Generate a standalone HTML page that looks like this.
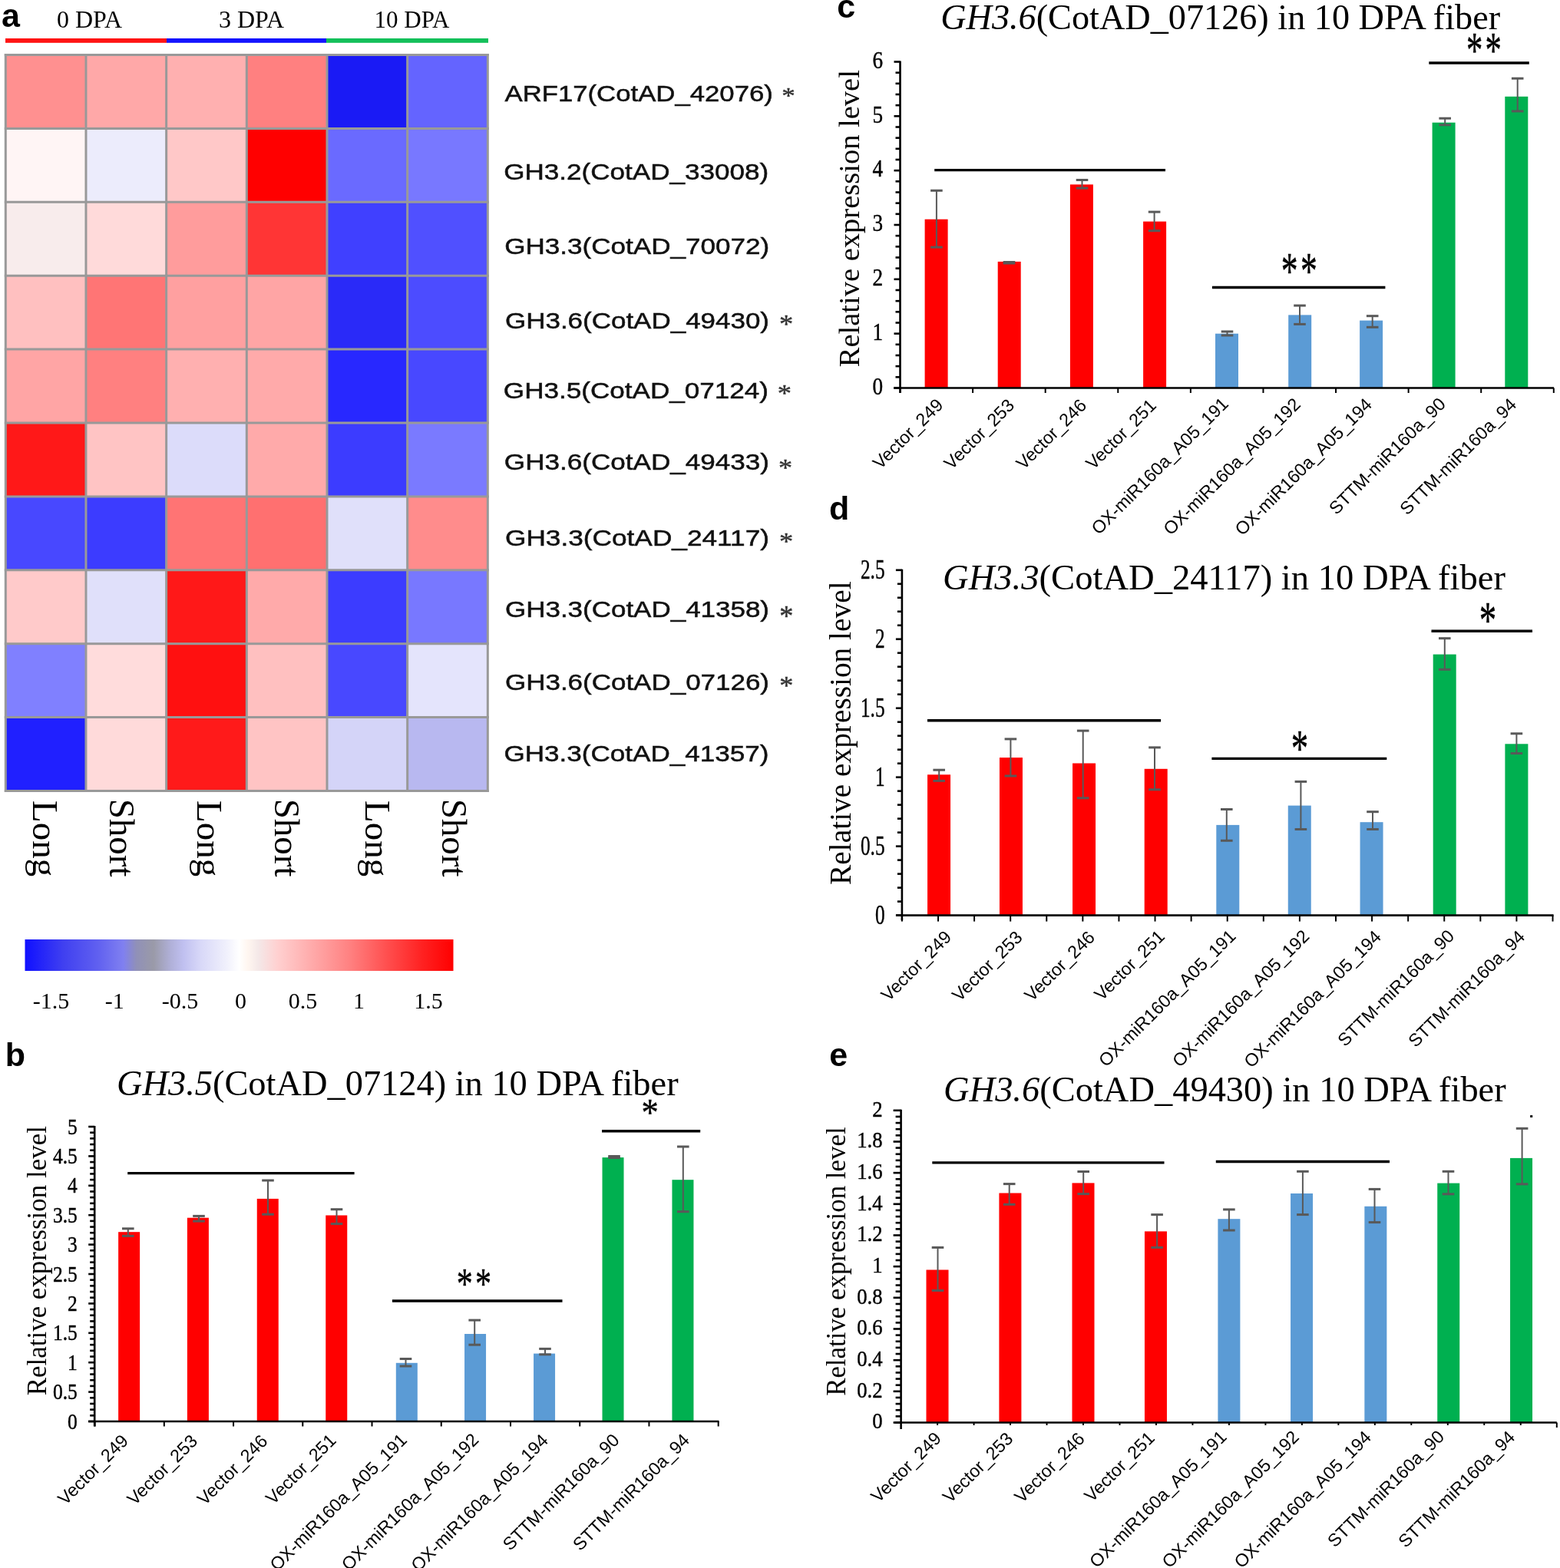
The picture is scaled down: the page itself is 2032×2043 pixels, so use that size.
<!DOCTYPE html>
<html><head><meta charset="utf-8"><title>Figure</title>
<style>html,body{margin:0;padding:0;background:#fff;}svg{display:block;}</style></head>
<body><svg xmlns="http://www.w3.org/2000/svg" width="2032" height="2043" viewBox="0 0 2032 2043">
<rect width="2032" height="2043" fill="#fff"/>
<text x="2" y="35" font-family="'Liberation Sans',Arial,sans-serif" font-size="43" font-weight="bold">a</text>
<text x="74" y="35.8" font-family="'Liberation Serif','Times New Roman',serif" font-size="31" textLength="85" lengthAdjust="spacingAndGlyphs">0 DPA</text>
<text x="285" y="35.8" font-family="'Liberation Serif','Times New Roman',serif" font-size="31" textLength="85" lengthAdjust="spacingAndGlyphs">3 DPA</text>
<text x="487.5" y="35.8" font-family="'Liberation Serif','Times New Roman',serif" font-size="31" textLength="98" lengthAdjust="spacingAndGlyphs">10 DPA</text>
<rect x="7" y="50" width="210" height="5.8" fill="#ff1414"/>
<rect x="217" y="50" width="208" height="5.8" fill="#1414ff"/>
<rect x="425" y="50" width="211" height="5.8" fill="#14c05a"/>
<rect x="7.3" y="71.5" width="104.67" height="95.9" fill="#ff9090"/>
<rect x="111.97" y="71.5" width="104.67" height="95.9" fill="#ffa8a8"/>
<rect x="216.64" y="71.5" width="104.67" height="95.9" fill="#ffb0b0"/>
<rect x="321.31" y="71.5" width="104.67" height="95.9" fill="#ff8080"/>
<rect x="425.98" y="71.5" width="104.67" height="95.9" fill="#1a1af5"/>
<rect x="530.65" y="71.5" width="104.67" height="95.9" fill="#6464ff"/>
<rect x="7.3" y="167.4" width="104.67" height="95.9" fill="#fff5f5"/>
<rect x="111.97" y="167.4" width="104.67" height="95.9" fill="#ececfc"/>
<rect x="216.64" y="167.4" width="104.67" height="95.9" fill="#ffc8c8"/>
<rect x="321.31" y="167.4" width="104.67" height="95.9" fill="#ff0000"/>
<rect x="425.98" y="167.4" width="104.67" height="95.9" fill="#6a6aff"/>
<rect x="530.65" y="167.4" width="104.67" height="95.9" fill="#7878ff"/>
<rect x="7.3" y="263.3" width="104.67" height="95.9" fill="#f8ecec"/>
<rect x="111.97" y="263.3" width="104.67" height="95.9" fill="#ffdada"/>
<rect x="216.64" y="263.3" width="104.67" height="95.9" fill="#ff9c9c"/>
<rect x="321.31" y="263.3" width="104.67" height="95.9" fill="#ff3535"/>
<rect x="425.98" y="263.3" width="104.67" height="95.9" fill="#4040ff"/>
<rect x="530.65" y="263.3" width="104.67" height="95.9" fill="#5050ff"/>
<rect x="7.3" y="359.2" width="104.67" height="95.9" fill="#ffc0c0"/>
<rect x="111.97" y="359.2" width="104.67" height="95.9" fill="#ff7575"/>
<rect x="216.64" y="359.2" width="104.67" height="95.9" fill="#ffa0a0"/>
<rect x="321.31" y="359.2" width="104.67" height="95.9" fill="#ffa5a5"/>
<rect x="425.98" y="359.2" width="104.67" height="95.9" fill="#2a2af8"/>
<rect x="530.65" y="359.2" width="104.67" height="95.9" fill="#4c4cff"/>
<rect x="7.3" y="455.1" width="104.67" height="95.9" fill="#ffa5a5"/>
<rect x="111.97" y="455.1" width="104.67" height="95.9" fill="#ff8080"/>
<rect x="216.64" y="455.1" width="104.67" height="95.9" fill="#ffb0b0"/>
<rect x="321.31" y="455.1" width="104.67" height="95.9" fill="#ffaaaa"/>
<rect x="425.98" y="455.1" width="104.67" height="95.9" fill="#2828ff"/>
<rect x="530.65" y="455.1" width="104.67" height="95.9" fill="#4848ff"/>
<rect x="7.3" y="551" width="104.67" height="95.9" fill="#ff1818"/>
<rect x="111.97" y="551" width="104.67" height="95.9" fill="#ffc4c4"/>
<rect x="216.64" y="551" width="104.67" height="95.9" fill="#dcdcfa"/>
<rect x="321.31" y="551" width="104.67" height="95.9" fill="#ffaaaa"/>
<rect x="425.98" y="551" width="104.67" height="95.9" fill="#3c3cff"/>
<rect x="530.65" y="551" width="104.67" height="95.9" fill="#7a7aff"/>
<rect x="7.3" y="646.9" width="104.67" height="95.9" fill="#4848ff"/>
<rect x="111.97" y="646.9" width="104.67" height="95.9" fill="#3c3cff"/>
<rect x="216.64" y="646.9" width="104.67" height="95.9" fill="#ff7474"/>
<rect x="321.31" y="646.9" width="104.67" height="95.9" fill="#ff7070"/>
<rect x="425.98" y="646.9" width="104.67" height="95.9" fill="#e0e0fa"/>
<rect x="530.65" y="646.9" width="104.67" height="95.9" fill="#ff8c8c"/>
<rect x="7.3" y="742.8" width="104.67" height="95.9" fill="#ffcaca"/>
<rect x="111.97" y="742.8" width="104.67" height="95.9" fill="#e0e0fa"/>
<rect x="216.64" y="742.8" width="104.67" height="95.9" fill="#ff1818"/>
<rect x="321.31" y="742.8" width="104.67" height="95.9" fill="#ffaaaa"/>
<rect x="425.98" y="742.8" width="104.67" height="95.9" fill="#3c3cff"/>
<rect x="530.65" y="742.8" width="104.67" height="95.9" fill="#7878ff"/>
<rect x="7.3" y="838.7" width="104.67" height="95.9" fill="#8080ff"/>
<rect x="111.97" y="838.7" width="104.67" height="95.9" fill="#ffdcdc"/>
<rect x="216.64" y="838.7" width="104.67" height="95.9" fill="#ff1010"/>
<rect x="321.31" y="838.7" width="104.67" height="95.9" fill="#ffc0c0"/>
<rect x="425.98" y="838.7" width="104.67" height="95.9" fill="#4848ff"/>
<rect x="530.65" y="838.7" width="104.67" height="95.9" fill="#e4e4fc"/>
<rect x="7.3" y="934.6" width="104.67" height="95.9" fill="#2020ff"/>
<rect x="111.97" y="934.6" width="104.67" height="95.9" fill="#ffdada"/>
<rect x="216.64" y="934.6" width="104.67" height="95.9" fill="#ff1a1a"/>
<rect x="321.31" y="934.6" width="104.67" height="95.9" fill="#ffc4c4"/>
<rect x="425.98" y="934.6" width="104.67" height="95.9" fill="#d4d4f8"/>
<rect x="530.65" y="934.6" width="104.67" height="95.9" fill="#b8b8f0"/>
<line x1="7.3" y1="70" x2="7.3" y2="1032" stroke="#999" stroke-width="3" stroke-linecap="butt"/>
<line x1="111.97" y1="70" x2="111.97" y2="1032" stroke="#999" stroke-width="3" stroke-linecap="butt"/>
<line x1="216.64" y1="70" x2="216.64" y2="1032" stroke="#999" stroke-width="3" stroke-linecap="butt"/>
<line x1="321.31" y1="70" x2="321.31" y2="1032" stroke="#999" stroke-width="3" stroke-linecap="butt"/>
<line x1="425.98" y1="70" x2="425.98" y2="1032" stroke="#999" stroke-width="3" stroke-linecap="butt"/>
<line x1="530.65" y1="70" x2="530.65" y2="1032" stroke="#999" stroke-width="3" stroke-linecap="butt"/>
<line x1="635.32" y1="70" x2="635.32" y2="1032" stroke="#999" stroke-width="3" stroke-linecap="butt"/>
<line x1="5.8" y1="71.5" x2="636.82" y2="71.5" stroke="#999" stroke-width="3" stroke-linecap="butt"/>
<line x1="5.8" y1="167.4" x2="636.82" y2="167.4" stroke="#999" stroke-width="3" stroke-linecap="butt"/>
<line x1="5.8" y1="263.3" x2="636.82" y2="263.3" stroke="#999" stroke-width="3" stroke-linecap="butt"/>
<line x1="5.8" y1="359.2" x2="636.82" y2="359.2" stroke="#999" stroke-width="3" stroke-linecap="butt"/>
<line x1="5.8" y1="455.1" x2="636.82" y2="455.1" stroke="#999" stroke-width="3" stroke-linecap="butt"/>
<line x1="5.8" y1="551" x2="636.82" y2="551" stroke="#999" stroke-width="3" stroke-linecap="butt"/>
<line x1="5.8" y1="646.9" x2="636.82" y2="646.9" stroke="#999" stroke-width="3" stroke-linecap="butt"/>
<line x1="5.8" y1="742.8" x2="636.82" y2="742.8" stroke="#999" stroke-width="3" stroke-linecap="butt"/>
<line x1="5.8" y1="838.7" x2="636.82" y2="838.7" stroke="#999" stroke-width="3" stroke-linecap="butt"/>
<line x1="5.8" y1="934.6" x2="636.82" y2="934.6" stroke="#999" stroke-width="3" stroke-linecap="butt"/>
<line x1="5.8" y1="1030.5" x2="636.82" y2="1030.5" stroke="#999" stroke-width="3" stroke-linecap="butt"/>
<text x="657.48" y="132" font-family="'Liberation Sans',Arial,sans-serif" font-size="30.2" fill="#111" textLength="349.4" lengthAdjust="spacingAndGlyphs" stroke="#111" stroke-width="0.5">ARF17(CotAD_42076)</text>
<text x="656.19" y="234" font-family="'Liberation Sans',Arial,sans-serif" font-size="30.2" fill="#111" textLength="345.05" lengthAdjust="spacingAndGlyphs" stroke="#111" stroke-width="0.5">GH3.2(CotAD_33008)</text>
<text x="657.19" y="331" font-family="'Liberation Sans',Arial,sans-serif" font-size="30.2" fill="#111" textLength="345.05" lengthAdjust="spacingAndGlyphs" stroke="#111" stroke-width="0.5">GH3.3(CotAD_70072)</text>
<text x="657.99" y="428.4" font-family="'Liberation Sans',Arial,sans-serif" font-size="30.2" fill="#111" textLength="344.04" lengthAdjust="spacingAndGlyphs" stroke="#111" stroke-width="0.5">GH3.6(CotAD_49430)</text>
<text x="655.89" y="519" font-family="'Liberation Sans',Arial,sans-serif" font-size="30.2" fill="#111" textLength="345.05" lengthAdjust="spacingAndGlyphs" stroke="#111" stroke-width="0.5">GH3.5(CotAD_07124)</text>
<text x="656.89" y="611.6" font-family="'Liberation Sans',Arial,sans-serif" font-size="30.2" fill="#111" textLength="345.05" lengthAdjust="spacingAndGlyphs" stroke="#111" stroke-width="0.5">GH3.6(CotAD_49433)</text>
<text x="657.98" y="710.8" font-family="'Liberation Sans',Arial,sans-serif" font-size="30.2" fill="#111" textLength="344.07" lengthAdjust="spacingAndGlyphs" stroke="#111" stroke-width="0.5">GH3.3(CotAD_24117)</text>
<text x="657.99" y="804.4" font-family="'Liberation Sans',Arial,sans-serif" font-size="30.2" fill="#111" textLength="344.04" lengthAdjust="spacingAndGlyphs" stroke="#111" stroke-width="0.5">GH3.3(CotAD_41358)</text>
<text x="657.99" y="899.1" font-family="'Liberation Sans',Arial,sans-serif" font-size="30.2" fill="#111" textLength="344.04" lengthAdjust="spacingAndGlyphs" stroke="#111" stroke-width="0.5">GH3.6(CotAD_07126)</text>
<text x="656.49" y="991.7" font-family="'Liberation Sans',Arial,sans-serif" font-size="30.2" fill="#111" textLength="345.05" lengthAdjust="spacingAndGlyphs" stroke="#111" stroke-width="0.5">GH3.3(CotAD_41357)</text>
<text x="0" y="0" font-family="'Liberation Serif','Times New Roman',serif" font-size="34.91" text-anchor="middle" fill="#333" transform="translate(1027,133.71) scale(1,0.86)" stroke="#333" stroke-width="0.5">*</text>
<text x="0" y="0" font-family="'Liberation Serif','Times New Roman',serif" font-size="36.41" text-anchor="middle" fill="#333" transform="translate(1024,433.02) scale(1,0.93)" stroke="#333" stroke-width="0.5">*</text>
<text x="0" y="0" font-family="'Liberation Serif','Times New Roman',serif" font-size="36.41" text-anchor="middle" fill="#333" transform="translate(1021.9,522.91) scale(1,0.87)" stroke="#333" stroke-width="0.5">*</text>
<text x="0" y="0" font-family="'Liberation Serif','Times New Roman',serif" font-size="36.16" text-anchor="middle" fill="#333" transform="translate(1022.95,619.71) scale(1,0.87)" stroke="#333" stroke-width="0.5">*</text>
<text x="0" y="0" font-family="'Liberation Serif','Times New Roman',serif" font-size="36.41" text-anchor="middle" fill="#333" transform="translate(1024,715.63) scale(1,0.86)" stroke="#333" stroke-width="0.5">*</text>
<text x="0" y="0" font-family="'Liberation Serif','Times New Roman',serif" font-size="36.16" text-anchor="middle" fill="#333" transform="translate(1024.25,815.09) scale(1,1.02)" stroke="#333" stroke-width="0.5">*</text>
<text x="0" y="0" font-family="'Liberation Serif','Times New Roman',serif" font-size="36.16" text-anchor="middle" fill="#333" transform="translate(1024.25,903.8) scale(1,0.95)" stroke="#333" stroke-width="0.5">*</text>
<text x="0" y="0" font-family="'Liberation Serif','Times New Roman',serif" font-size="47" transform="translate(42.9,1043) rotate(90)">Long</text>
<text x="0" y="0" font-family="'Liberation Serif','Times New Roman',serif" font-size="47" transform="translate(143.3,1040.7) rotate(90)">Short</text>
<text x="0" y="0" font-family="'Liberation Serif','Times New Roman',serif" font-size="47" transform="translate(257.2,1043) rotate(90)">Long</text>
<text x="0" y="0" font-family="'Liberation Serif','Times New Roman',serif" font-size="47" transform="translate(357.5,1040.7) rotate(90)">Short</text>
<text x="0" y="0" font-family="'Liberation Serif','Times New Roman',serif" font-size="47" transform="translate(475.7,1043) rotate(90)">Long</text>
<text x="0" y="0" font-family="'Liberation Serif','Times New Roman',serif" font-size="47" transform="translate(576,1040.7) rotate(90)">Short</text>
<defs><linearGradient id="cb" x1="0" x2="1" y1="0" y2="0"><stop offset="0" stop-color="#1010ff"/><stop offset="0.09" stop-color="#4040f0"/><stop offset="0.17" stop-color="#6060f0"/><stop offset="0.23" stop-color="#8080f0"/><stop offset="0.26" stop-color="#9090b8"/><stop offset="0.30" stop-color="#9a9aa8"/><stop offset="0.34" stop-color="#b0b0d8"/><stop offset="0.37" stop-color="#c0c0f0"/><stop offset="0.41" stop-color="#d8d8f8"/><stop offset="0.47" stop-color="#f0f0fc"/><stop offset="0.50" stop-color="#ffffff"/><stop offset="0.52" stop-color="#fff6f0"/><stop offset="0.545" stop-color="#f4e8e8"/><stop offset="0.59" stop-color="#ffd0d0"/><stop offset="0.675" stop-color="#ffa8a8"/><stop offset="0.76" stop-color="#ff8080"/><stop offset="0.843" stop-color="#ff5050"/><stop offset="0.93" stop-color="#ff2020"/><stop offset="1" stop-color="#ff0000"/></linearGradient></defs>
<rect x="32.5" y="1224" width="558" height="41" fill="url(#cb)"/>
<text x="66.6" y="1314" font-family="'Liberation Serif','Times New Roman',serif" font-size="30" text-anchor="middle">-1.5</text>
<text x="149.2" y="1314" font-family="'Liberation Serif','Times New Roman',serif" font-size="30" text-anchor="middle">-1</text>
<text x="234.5" y="1314" font-family="'Liberation Serif','Times New Roman',serif" font-size="30" text-anchor="middle">-0.5</text>
<text x="313.5" y="1314" font-family="'Liberation Serif','Times New Roman',serif" font-size="30" text-anchor="middle">0</text>
<text x="394.5" y="1314" font-family="'Liberation Serif','Times New Roman',serif" font-size="30" text-anchor="middle">0.5</text>
<text x="467.5" y="1314" font-family="'Liberation Serif','Times New Roman',serif" font-size="30" text-anchor="middle">1</text>
<text x="558" y="1314" font-family="'Liberation Serif','Times New Roman',serif" font-size="30" text-anchor="middle">1.5</text>
<rect x="154.15" y="1605.2" width="28" height="246.8" fill="#ff0000"/>
<rect x="243.9" y="1586.7" width="28" height="265.3" fill="#ff0000"/>
<rect x="334.75" y="1561.9" width="28" height="290.1" fill="#ff0000"/>
<rect x="424.25" y="1583.5" width="28" height="268.5" fill="#ff0000"/>
<rect x="515.8" y="1775.8" width="28" height="76.2" fill="#5b9bd5"/>
<rect x="605.05" y="1738" width="28" height="114" fill="#5b9bd5"/>
<rect x="695.05" y="1763.6" width="28" height="88.4" fill="#5b9bd5"/>
<rect x="784.5" y="1508.1" width="28" height="343.9" fill="#00b050"/>
<rect x="875.45" y="1537.2" width="28" height="314.8" fill="#00b050"/>
<line x1="166.8" y1="1600.8" x2="166.8" y2="1610.4" stroke="#595959" stroke-width="2" stroke-linecap="butt"/>
<line x1="159" y1="1600.8" x2="174.6" y2="1600.8" stroke="#595959" stroke-width="3" stroke-linecap="butt"/>
<line x1="159" y1="1610.4" x2="174.6" y2="1610.4" stroke="#595959" stroke-width="3" stroke-linecap="butt"/>
<line x1="259" y1="1584.4" x2="259" y2="1591.1" stroke="#595959" stroke-width="2" stroke-linecap="butt"/>
<line x1="251.2" y1="1584.4" x2="266.8" y2="1584.4" stroke="#595959" stroke-width="3" stroke-linecap="butt"/>
<line x1="251.2" y1="1591.1" x2="266.8" y2="1591.1" stroke="#595959" stroke-width="3" stroke-linecap="butt"/>
<line x1="349" y1="1538" x2="349" y2="1582.2" stroke="#595959" stroke-width="2" stroke-linecap="butt"/>
<line x1="341.2" y1="1538" x2="356.8" y2="1538" stroke="#595959" stroke-width="3" stroke-linecap="butt"/>
<line x1="341.2" y1="1582.2" x2="356.8" y2="1582.2" stroke="#595959" stroke-width="3" stroke-linecap="butt"/>
<line x1="438.5" y1="1575.7" x2="438.5" y2="1594.6" stroke="#595959" stroke-width="2" stroke-linecap="butt"/>
<line x1="430.7" y1="1575.7" x2="446.3" y2="1575.7" stroke="#595959" stroke-width="3" stroke-linecap="butt"/>
<line x1="430.7" y1="1594.6" x2="446.3" y2="1594.6" stroke="#595959" stroke-width="3" stroke-linecap="butt"/>
<line x1="528.5" y1="1770.5" x2="528.5" y2="1780" stroke="#595959" stroke-width="2" stroke-linecap="butt"/>
<line x1="520.7" y1="1770.5" x2="536.3" y2="1770.5" stroke="#595959" stroke-width="3" stroke-linecap="butt"/>
<line x1="520.7" y1="1780" x2="536.3" y2="1780" stroke="#595959" stroke-width="3" stroke-linecap="butt"/>
<line x1="618.2" y1="1720.1" x2="618.2" y2="1752.2" stroke="#595959" stroke-width="2" stroke-linecap="butt"/>
<line x1="610.4" y1="1720.1" x2="626" y2="1720.1" stroke="#595959" stroke-width="3" stroke-linecap="butt"/>
<line x1="610.4" y1="1752.2" x2="626" y2="1752.2" stroke="#595959" stroke-width="3" stroke-linecap="butt"/>
<line x1="710" y1="1757.4" x2="710" y2="1764.8" stroke="#595959" stroke-width="2" stroke-linecap="butt"/>
<line x1="702.2" y1="1757.4" x2="717.8" y2="1757.4" stroke="#595959" stroke-width="3" stroke-linecap="butt"/>
<line x1="702.2" y1="1764.8" x2="717.8" y2="1764.8" stroke="#595959" stroke-width="3" stroke-linecap="butt"/>
<line x1="800" y1="1506.5" x2="800" y2="1508.5" stroke="#595959" stroke-width="2" stroke-linecap="butt"/>
<line x1="792.2" y1="1506.5" x2="807.8" y2="1506.5" stroke="#595959" stroke-width="3" stroke-linecap="butt"/>
<line x1="792.2" y1="1508.5" x2="807.8" y2="1508.5" stroke="#595959" stroke-width="3" stroke-linecap="butt"/>
<line x1="889.8" y1="1494" x2="889.8" y2="1578.7" stroke="#595959" stroke-width="2" stroke-linecap="butt"/>
<line x1="882" y1="1494" x2="897.6" y2="1494" stroke="#595959" stroke-width="3" stroke-linecap="butt"/>
<line x1="882" y1="1578.7" x2="897.6" y2="1578.7" stroke="#595959" stroke-width="3" stroke-linecap="butt"/>
<line x1="123.2" y1="1467" x2="123.2" y2="1858.5" stroke="#000" stroke-width="2.6" stroke-linecap="butt"/>
<line x1="115" y1="1852" x2="936.5" y2="1852" stroke="#000" stroke-width="2.6" stroke-linecap="butt"/>
<line x1="115.2" y1="1852" x2="123.2" y2="1852" stroke="#000" stroke-width="2.6" stroke-linecap="butt"/>
<line x1="117.2" y1="1844.32" x2="123.2" y2="1844.32" stroke="#000" stroke-width="2.6" stroke-linecap="butt"/>
<line x1="117.2" y1="1836.64" x2="123.2" y2="1836.64" stroke="#000" stroke-width="2.6" stroke-linecap="butt"/>
<line x1="117.2" y1="1828.96" x2="123.2" y2="1828.96" stroke="#000" stroke-width="2.6" stroke-linecap="butt"/>
<line x1="117.2" y1="1821.28" x2="123.2" y2="1821.28" stroke="#000" stroke-width="2.6" stroke-linecap="butt"/>
<line x1="115.2" y1="1813.6" x2="123.2" y2="1813.6" stroke="#000" stroke-width="2.6" stroke-linecap="butt"/>
<line x1="117.2" y1="1805.92" x2="123.2" y2="1805.92" stroke="#000" stroke-width="2.6" stroke-linecap="butt"/>
<line x1="117.2" y1="1798.24" x2="123.2" y2="1798.24" stroke="#000" stroke-width="2.6" stroke-linecap="butt"/>
<line x1="117.2" y1="1790.56" x2="123.2" y2="1790.56" stroke="#000" stroke-width="2.6" stroke-linecap="butt"/>
<line x1="117.2" y1="1782.88" x2="123.2" y2="1782.88" stroke="#000" stroke-width="2.6" stroke-linecap="butt"/>
<line x1="115.2" y1="1775.2" x2="123.2" y2="1775.2" stroke="#000" stroke-width="2.6" stroke-linecap="butt"/>
<line x1="117.2" y1="1767.52" x2="123.2" y2="1767.52" stroke="#000" stroke-width="2.6" stroke-linecap="butt"/>
<line x1="117.2" y1="1759.84" x2="123.2" y2="1759.84" stroke="#000" stroke-width="2.6" stroke-linecap="butt"/>
<line x1="117.2" y1="1752.16" x2="123.2" y2="1752.16" stroke="#000" stroke-width="2.6" stroke-linecap="butt"/>
<line x1="117.2" y1="1744.48" x2="123.2" y2="1744.48" stroke="#000" stroke-width="2.6" stroke-linecap="butt"/>
<line x1="115.2" y1="1736.8" x2="123.2" y2="1736.8" stroke="#000" stroke-width="2.6" stroke-linecap="butt"/>
<line x1="117.2" y1="1729.12" x2="123.2" y2="1729.12" stroke="#000" stroke-width="2.6" stroke-linecap="butt"/>
<line x1="117.2" y1="1721.44" x2="123.2" y2="1721.44" stroke="#000" stroke-width="2.6" stroke-linecap="butt"/>
<line x1="117.2" y1="1713.76" x2="123.2" y2="1713.76" stroke="#000" stroke-width="2.6" stroke-linecap="butt"/>
<line x1="117.2" y1="1706.08" x2="123.2" y2="1706.08" stroke="#000" stroke-width="2.6" stroke-linecap="butt"/>
<line x1="115.2" y1="1698.4" x2="123.2" y2="1698.4" stroke="#000" stroke-width="2.6" stroke-linecap="butt"/>
<line x1="117.2" y1="1690.72" x2="123.2" y2="1690.72" stroke="#000" stroke-width="2.6" stroke-linecap="butt"/>
<line x1="117.2" y1="1683.04" x2="123.2" y2="1683.04" stroke="#000" stroke-width="2.6" stroke-linecap="butt"/>
<line x1="117.2" y1="1675.36" x2="123.2" y2="1675.36" stroke="#000" stroke-width="2.6" stroke-linecap="butt"/>
<line x1="117.2" y1="1667.68" x2="123.2" y2="1667.68" stroke="#000" stroke-width="2.6" stroke-linecap="butt"/>
<line x1="115.2" y1="1660" x2="123.2" y2="1660" stroke="#000" stroke-width="2.6" stroke-linecap="butt"/>
<line x1="117.2" y1="1652.32" x2="123.2" y2="1652.32" stroke="#000" stroke-width="2.6" stroke-linecap="butt"/>
<line x1="117.2" y1="1644.64" x2="123.2" y2="1644.64" stroke="#000" stroke-width="2.6" stroke-linecap="butt"/>
<line x1="117.2" y1="1636.96" x2="123.2" y2="1636.96" stroke="#000" stroke-width="2.6" stroke-linecap="butt"/>
<line x1="117.2" y1="1629.28" x2="123.2" y2="1629.28" stroke="#000" stroke-width="2.6" stroke-linecap="butt"/>
<line x1="115.2" y1="1621.6" x2="123.2" y2="1621.6" stroke="#000" stroke-width="2.6" stroke-linecap="butt"/>
<line x1="117.2" y1="1613.92" x2="123.2" y2="1613.92" stroke="#000" stroke-width="2.6" stroke-linecap="butt"/>
<line x1="117.2" y1="1606.24" x2="123.2" y2="1606.24" stroke="#000" stroke-width="2.6" stroke-linecap="butt"/>
<line x1="117.2" y1="1598.56" x2="123.2" y2="1598.56" stroke="#000" stroke-width="2.6" stroke-linecap="butt"/>
<line x1="117.2" y1="1590.88" x2="123.2" y2="1590.88" stroke="#000" stroke-width="2.6" stroke-linecap="butt"/>
<line x1="115.2" y1="1583.2" x2="123.2" y2="1583.2" stroke="#000" stroke-width="2.6" stroke-linecap="butt"/>
<line x1="117.2" y1="1575.52" x2="123.2" y2="1575.52" stroke="#000" stroke-width="2.6" stroke-linecap="butt"/>
<line x1="117.2" y1="1567.84" x2="123.2" y2="1567.84" stroke="#000" stroke-width="2.6" stroke-linecap="butt"/>
<line x1="117.2" y1="1560.16" x2="123.2" y2="1560.16" stroke="#000" stroke-width="2.6" stroke-linecap="butt"/>
<line x1="117.2" y1="1552.48" x2="123.2" y2="1552.48" stroke="#000" stroke-width="2.6" stroke-linecap="butt"/>
<line x1="115.2" y1="1544.8" x2="123.2" y2="1544.8" stroke="#000" stroke-width="2.6" stroke-linecap="butt"/>
<line x1="117.2" y1="1537.12" x2="123.2" y2="1537.12" stroke="#000" stroke-width="2.6" stroke-linecap="butt"/>
<line x1="117.2" y1="1529.44" x2="123.2" y2="1529.44" stroke="#000" stroke-width="2.6" stroke-linecap="butt"/>
<line x1="117.2" y1="1521.76" x2="123.2" y2="1521.76" stroke="#000" stroke-width="2.6" stroke-linecap="butt"/>
<line x1="117.2" y1="1514.08" x2="123.2" y2="1514.08" stroke="#000" stroke-width="2.6" stroke-linecap="butt"/>
<line x1="115.2" y1="1506.4" x2="123.2" y2="1506.4" stroke="#000" stroke-width="2.6" stroke-linecap="butt"/>
<line x1="117.2" y1="1498.72" x2="123.2" y2="1498.72" stroke="#000" stroke-width="2.6" stroke-linecap="butt"/>
<line x1="117.2" y1="1491.04" x2="123.2" y2="1491.04" stroke="#000" stroke-width="2.6" stroke-linecap="butt"/>
<line x1="117.2" y1="1483.36" x2="123.2" y2="1483.36" stroke="#000" stroke-width="2.6" stroke-linecap="butt"/>
<line x1="117.2" y1="1475.68" x2="123.2" y2="1475.68" stroke="#000" stroke-width="2.6" stroke-linecap="butt"/>
<line x1="115.2" y1="1468" x2="123.2" y2="1468" stroke="#000" stroke-width="2.6" stroke-linecap="butt"/>
<text x="0" y="0" font-family="'Liberation Serif','Times New Roman',serif" font-size="29" text-anchor="end" transform="translate(100.8,1861.57) scale(0.88,1)" stroke="#000" stroke-width="0.45">0</text>
<text x="0" y="0" font-family="'Liberation Serif','Times New Roman',serif" font-size="29" text-anchor="end" transform="translate(100.8,1823.17) scale(0.88,1)" stroke="#000" stroke-width="0.45">0.5</text>
<text x="0" y="0" font-family="'Liberation Serif','Times New Roman',serif" font-size="29" text-anchor="end" transform="translate(100.8,1784.77) scale(0.88,1)" stroke="#000" stroke-width="0.45">1</text>
<text x="0" y="0" font-family="'Liberation Serif','Times New Roman',serif" font-size="29" text-anchor="end" transform="translate(100.8,1746.37) scale(0.88,1)" stroke="#000" stroke-width="0.45">1.5</text>
<text x="0" y="0" font-family="'Liberation Serif','Times New Roman',serif" font-size="29" text-anchor="end" transform="translate(100.8,1707.97) scale(0.88,1)" stroke="#000" stroke-width="0.45">2</text>
<text x="0" y="0" font-family="'Liberation Serif','Times New Roman',serif" font-size="29" text-anchor="end" transform="translate(100.8,1669.57) scale(0.88,1)" stroke="#000" stroke-width="0.45">2.5</text>
<text x="0" y="0" font-family="'Liberation Serif','Times New Roman',serif" font-size="29" text-anchor="end" transform="translate(100.8,1631.17) scale(0.88,1)" stroke="#000" stroke-width="0.45">3</text>
<text x="0" y="0" font-family="'Liberation Serif','Times New Roman',serif" font-size="29" text-anchor="end" transform="translate(100.8,1592.77) scale(0.88,1)" stroke="#000" stroke-width="0.45">3.5</text>
<text x="0" y="0" font-family="'Liberation Serif','Times New Roman',serif" font-size="29" text-anchor="end" transform="translate(100.8,1554.37) scale(0.88,1)" stroke="#000" stroke-width="0.45">4</text>
<text x="0" y="0" font-family="'Liberation Serif','Times New Roman',serif" font-size="29" text-anchor="end" transform="translate(100.8,1515.97) scale(0.88,1)" stroke="#000" stroke-width="0.45">4.5</text>
<text x="0" y="0" font-family="'Liberation Serif','Times New Roman',serif" font-size="29" text-anchor="end" transform="translate(100.8,1477.57) scale(0.88,1)" stroke="#000" stroke-width="0.45">5</text>
<line x1="123.6" y1="1852" x2="123.6" y2="1858.5" stroke="#000" stroke-width="2" stroke-linecap="butt"/>
<line x1="213.83" y1="1852" x2="213.83" y2="1858.5" stroke="#000" stroke-width="2" stroke-linecap="butt"/>
<line x1="304.06" y1="1852" x2="304.06" y2="1858.5" stroke="#000" stroke-width="2" stroke-linecap="butt"/>
<line x1="394.29" y1="1852" x2="394.29" y2="1858.5" stroke="#000" stroke-width="2" stroke-linecap="butt"/>
<line x1="484.52" y1="1852" x2="484.52" y2="1858.5" stroke="#000" stroke-width="2" stroke-linecap="butt"/>
<line x1="574.75" y1="1852" x2="574.75" y2="1858.5" stroke="#000" stroke-width="2" stroke-linecap="butt"/>
<line x1="664.98" y1="1852" x2="664.98" y2="1858.5" stroke="#000" stroke-width="2" stroke-linecap="butt"/>
<line x1="755.21" y1="1852" x2="755.21" y2="1858.5" stroke="#000" stroke-width="2" stroke-linecap="butt"/>
<line x1="845.44" y1="1852" x2="845.44" y2="1858.5" stroke="#000" stroke-width="2" stroke-linecap="butt"/>
<line x1="935.67" y1="1852" x2="935.67" y2="1858.5" stroke="#000" stroke-width="2" stroke-linecap="butt"/>
<line x1="166.2" y1="1528.6" x2="461.6" y2="1528.6" stroke="#000" stroke-width="3.4" stroke-linecap="butt"/>
<line x1="510.9" y1="1695" x2="732.5" y2="1695" stroke="#000" stroke-width="3.4" stroke-linecap="butt"/>
<line x1="784" y1="1473.8" x2="912.2" y2="1473.8" stroke="#000" stroke-width="3.4" stroke-linecap="butt"/>
<text x="0" y="0" font-family="'Liberation Serif','Times New Roman',serif" font-size="42.12" text-anchor="middle" transform="translate(605.25,1691.81) scale(1,1.34)" stroke="#000" stroke-width="0.35">*</text>
<text x="0" y="0" font-family="'Liberation Serif','Times New Roman',serif" font-size="42.12" text-anchor="middle" transform="translate(629.55,1691.81) scale(1,1.34)" stroke="#000" stroke-width="0.35">*</text>
<text x="0" y="0" font-family="'Liberation Serif','Times New Roman',serif" font-size="44.64" text-anchor="middle" transform="translate(846.55,1466.49) scale(1,1.12)" stroke="#000" stroke-width="0.35">*</text>
<text x="151.95" y="1426.6" font-family="'Liberation Serif','Times New Roman',serif" font-size="47" textLength="731.68" lengthAdjust="spacingAndGlyphs"><tspan font-style="italic">GH3.5</tspan>(CotAD_07124) in 10 DPA fiber</text>
<text x="0" y="0" font-family="'Liberation Serif','Times New Roman',serif" font-size="34.93" text-anchor="middle" textLength="351.12" lengthAdjust="spacingAndGlyphs" transform="translate(59.9,1642.7) rotate(-90)">Relative expression level</text>
<text x="0" y="0" font-family="'Liberation Sans',Arial,sans-serif" font-size="23.3" text-anchor="end" transform="translate(168.3,1878.79) rotate(-45)">Vector_249</text>
<text x="0" y="0" font-family="'Liberation Sans',Arial,sans-serif" font-size="23.3" text-anchor="end" transform="translate(258.59,1879.15) rotate(-45)">Vector_253</text>
<text x="0" y="0" font-family="'Liberation Sans',Arial,sans-serif" font-size="23.3" text-anchor="end" transform="translate(349.87,1879.15) rotate(-45)">Vector_246</text>
<text x="0" y="0" font-family="'Liberation Sans',Arial,sans-serif" font-size="23.3" text-anchor="end" transform="translate(439.19,1878.09) rotate(-45)">Vector_251</text>
<text x="0" y="0" font-family="'Liberation Sans',Arial,sans-serif" font-size="23.3" text-anchor="end" transform="translate(531.5,1877.68) rotate(-45)">OX-miR160a_A05_191</text>
<text x="0" y="0" font-family="'Liberation Sans',Arial,sans-serif" font-size="23.3" text-anchor="end" transform="translate(624.9,1877.34) rotate(-45)">OX-miR160a_A05_192</text>
<text x="0" y="0" font-family="'Liberation Sans',Arial,sans-serif" font-size="23.3" text-anchor="end" transform="translate(715.43,1878.38) rotate(-45)">OX-miR160a_A05_194</text>
<text x="0" y="0" font-family="'Liberation Sans',Arial,sans-serif" font-size="23.3" text-anchor="end" transform="translate(808.2,1877.81) rotate(-45)">STTM-miR160a_90</text>
<text x="0" y="0" font-family="'Liberation Sans',Arial,sans-serif" font-size="23.3" text-anchor="end" transform="translate(899.49,1877.92) rotate(-45)">STTM-miR160a_94</text>
<text x="6.8" y="1388.7" font-family="'Liberation Sans',Arial,sans-serif" font-size="43" font-weight="bold">b</text>
<rect x="1204.6" y="285.7" width="30" height="219.8" fill="#ff0000"/>
<rect x="1299.7" y="340.9" width="30" height="164.6" fill="#ff0000"/>
<rect x="1393.9" y="240.4" width="30" height="265.1" fill="#ff0000"/>
<rect x="1489.1" y="288.6" width="30" height="216.9" fill="#ff0000"/>
<rect x="1583" y="434.7" width="30" height="70.8" fill="#5b9bd5"/>
<rect x="1678.2" y="410.4" width="30" height="95.1" fill="#5b9bd5"/>
<rect x="1771.1" y="417.6" width="30" height="87.9" fill="#5b9bd5"/>
<rect x="1865.6" y="159.7" width="30" height="345.8" fill="#00b050"/>
<rect x="1960.3" y="125.8" width="30" height="379.7" fill="#00b050"/>
<line x1="1219.9" y1="248.3" x2="1219.9" y2="322.1" stroke="#595959" stroke-width="2" stroke-linecap="butt"/>
<line x1="1212.1" y1="248.3" x2="1227.7" y2="248.3" stroke="#595959" stroke-width="3" stroke-linecap="butt"/>
<line x1="1212.1" y1="322.1" x2="1227.7" y2="322.1" stroke="#595959" stroke-width="3" stroke-linecap="butt"/>
<line x1="1314.5" y1="341.5" x2="1314.5" y2="343" stroke="#595959" stroke-width="2" stroke-linecap="butt"/>
<line x1="1306.7" y1="341.5" x2="1322.3" y2="341.5" stroke="#595959" stroke-width="3" stroke-linecap="butt"/>
<line x1="1306.7" y1="343" x2="1322.3" y2="343" stroke="#595959" stroke-width="3" stroke-linecap="butt"/>
<line x1="1409.5" y1="234.5" x2="1409.5" y2="245.1" stroke="#595959" stroke-width="2" stroke-linecap="butt"/>
<line x1="1401.7" y1="234.5" x2="1417.3" y2="234.5" stroke="#595959" stroke-width="3" stroke-linecap="butt"/>
<line x1="1401.7" y1="245.1" x2="1417.3" y2="245.1" stroke="#595959" stroke-width="3" stroke-linecap="butt"/>
<line x1="1503.6" y1="276.1" x2="1503.6" y2="300.7" stroke="#595959" stroke-width="2" stroke-linecap="butt"/>
<line x1="1495.8" y1="276.1" x2="1511.4" y2="276.1" stroke="#595959" stroke-width="3" stroke-linecap="butt"/>
<line x1="1495.8" y1="300.7" x2="1511.4" y2="300.7" stroke="#595959" stroke-width="3" stroke-linecap="butt"/>
<line x1="1598.5" y1="432" x2="1598.5" y2="437" stroke="#595959" stroke-width="2" stroke-linecap="butt"/>
<line x1="1590.7" y1="432" x2="1606.3" y2="432" stroke="#595959" stroke-width="3" stroke-linecap="butt"/>
<line x1="1590.7" y1="437" x2="1606.3" y2="437" stroke="#595959" stroke-width="3" stroke-linecap="butt"/>
<line x1="1693" y1="398.1" x2="1693" y2="422.4" stroke="#595959" stroke-width="2" stroke-linecap="butt"/>
<line x1="1685.2" y1="398.1" x2="1700.8" y2="398.1" stroke="#595959" stroke-width="3" stroke-linecap="butt"/>
<line x1="1685.2" y1="422.4" x2="1700.8" y2="422.4" stroke="#595959" stroke-width="3" stroke-linecap="butt"/>
<line x1="1787.7" y1="411.7" x2="1787.7" y2="426.3" stroke="#595959" stroke-width="2" stroke-linecap="butt"/>
<line x1="1779.9" y1="411.7" x2="1795.5" y2="411.7" stroke="#595959" stroke-width="3" stroke-linecap="butt"/>
<line x1="1779.9" y1="426.3" x2="1795.5" y2="426.3" stroke="#595959" stroke-width="3" stroke-linecap="butt"/>
<line x1="1882.2" y1="154.2" x2="1882.2" y2="162.8" stroke="#595959" stroke-width="2" stroke-linecap="butt"/>
<line x1="1874.4" y1="154.2" x2="1890" y2="154.2" stroke="#595959" stroke-width="3" stroke-linecap="butt"/>
<line x1="1874.4" y1="162.8" x2="1890" y2="162.8" stroke="#595959" stroke-width="3" stroke-linecap="butt"/>
<line x1="1976.7" y1="102.2" x2="1976.7" y2="144.9" stroke="#595959" stroke-width="2" stroke-linecap="butt"/>
<line x1="1968.9" y1="102.2" x2="1984.5" y2="102.2" stroke="#595959" stroke-width="3" stroke-linecap="butt"/>
<line x1="1968.9" y1="144.9" x2="1984.5" y2="144.9" stroke="#595959" stroke-width="3" stroke-linecap="butt"/>
<line x1="1172.5" y1="79.5" x2="1172.5" y2="512" stroke="#000" stroke-width="2.6" stroke-linecap="butt"/>
<line x1="1164" y1="505.5" x2="2024" y2="505.5" stroke="#000" stroke-width="2.6" stroke-linecap="butt"/>
<line x1="1164.5" y1="505.5" x2="1172.5" y2="505.5" stroke="#000" stroke-width="2.6" stroke-linecap="butt"/>
<line x1="1166.5" y1="491.33" x2="1172.5" y2="491.33" stroke="#000" stroke-width="2.6" stroke-linecap="butt"/>
<line x1="1166.5" y1="477.17" x2="1172.5" y2="477.17" stroke="#000" stroke-width="2.6" stroke-linecap="butt"/>
<line x1="1166.5" y1="463" x2="1172.5" y2="463" stroke="#000" stroke-width="2.6" stroke-linecap="butt"/>
<line x1="1166.5" y1="448.83" x2="1172.5" y2="448.83" stroke="#000" stroke-width="2.6" stroke-linecap="butt"/>
<line x1="1164.5" y1="434.67" x2="1172.5" y2="434.67" stroke="#000" stroke-width="2.6" stroke-linecap="butt"/>
<line x1="1166.5" y1="420.5" x2="1172.5" y2="420.5" stroke="#000" stroke-width="2.6" stroke-linecap="butt"/>
<line x1="1166.5" y1="406.33" x2="1172.5" y2="406.33" stroke="#000" stroke-width="2.6" stroke-linecap="butt"/>
<line x1="1166.5" y1="392.17" x2="1172.5" y2="392.17" stroke="#000" stroke-width="2.6" stroke-linecap="butt"/>
<line x1="1166.5" y1="378" x2="1172.5" y2="378" stroke="#000" stroke-width="2.6" stroke-linecap="butt"/>
<line x1="1164.5" y1="363.83" x2="1172.5" y2="363.83" stroke="#000" stroke-width="2.6" stroke-linecap="butt"/>
<line x1="1166.5" y1="349.67" x2="1172.5" y2="349.67" stroke="#000" stroke-width="2.6" stroke-linecap="butt"/>
<line x1="1166.5" y1="335.5" x2="1172.5" y2="335.5" stroke="#000" stroke-width="2.6" stroke-linecap="butt"/>
<line x1="1166.5" y1="321.33" x2="1172.5" y2="321.33" stroke="#000" stroke-width="2.6" stroke-linecap="butt"/>
<line x1="1166.5" y1="307.17" x2="1172.5" y2="307.17" stroke="#000" stroke-width="2.6" stroke-linecap="butt"/>
<line x1="1164.5" y1="293" x2="1172.5" y2="293" stroke="#000" stroke-width="2.6" stroke-linecap="butt"/>
<line x1="1166.5" y1="278.83" x2="1172.5" y2="278.83" stroke="#000" stroke-width="2.6" stroke-linecap="butt"/>
<line x1="1166.5" y1="264.67" x2="1172.5" y2="264.67" stroke="#000" stroke-width="2.6" stroke-linecap="butt"/>
<line x1="1166.5" y1="250.5" x2="1172.5" y2="250.5" stroke="#000" stroke-width="2.6" stroke-linecap="butt"/>
<line x1="1166.5" y1="236.33" x2="1172.5" y2="236.33" stroke="#000" stroke-width="2.6" stroke-linecap="butt"/>
<line x1="1164.5" y1="222.17" x2="1172.5" y2="222.17" stroke="#000" stroke-width="2.6" stroke-linecap="butt"/>
<line x1="1166.5" y1="208" x2="1172.5" y2="208" stroke="#000" stroke-width="2.6" stroke-linecap="butt"/>
<line x1="1166.5" y1="193.83" x2="1172.5" y2="193.83" stroke="#000" stroke-width="2.6" stroke-linecap="butt"/>
<line x1="1166.5" y1="179.67" x2="1172.5" y2="179.67" stroke="#000" stroke-width="2.6" stroke-linecap="butt"/>
<line x1="1166.5" y1="165.5" x2="1172.5" y2="165.5" stroke="#000" stroke-width="2.6" stroke-linecap="butt"/>
<line x1="1164.5" y1="151.33" x2="1172.5" y2="151.33" stroke="#000" stroke-width="2.6" stroke-linecap="butt"/>
<line x1="1166.5" y1="137.17" x2="1172.5" y2="137.17" stroke="#000" stroke-width="2.6" stroke-linecap="butt"/>
<line x1="1166.5" y1="123" x2="1172.5" y2="123" stroke="#000" stroke-width="2.6" stroke-linecap="butt"/>
<line x1="1166.5" y1="108.83" x2="1172.5" y2="108.83" stroke="#000" stroke-width="2.6" stroke-linecap="butt"/>
<line x1="1166.5" y1="94.67" x2="1172.5" y2="94.67" stroke="#000" stroke-width="2.6" stroke-linecap="butt"/>
<line x1="1164.5" y1="80.5" x2="1172.5" y2="80.5" stroke="#000" stroke-width="2.6" stroke-linecap="butt"/>
<text x="0" y="0" font-family="'Liberation Serif','Times New Roman',serif" font-size="32" text-anchor="end" transform="translate(1150.1,513.82) scale(0.85,1)" stroke="#000" stroke-width="0.45">0</text>
<text x="0" y="0" font-family="'Liberation Serif','Times New Roman',serif" font-size="32" text-anchor="end" transform="translate(1150.1,442.99) scale(0.85,1)" stroke="#000" stroke-width="0.45">1</text>
<text x="0" y="0" font-family="'Liberation Serif','Times New Roman',serif" font-size="32" text-anchor="end" transform="translate(1150.1,372.15) scale(0.85,1)" stroke="#000" stroke-width="0.45">2</text>
<text x="0" y="0" font-family="'Liberation Serif','Times New Roman',serif" font-size="32" text-anchor="end" transform="translate(1150.1,301.32) scale(0.85,1)" stroke="#000" stroke-width="0.45">3</text>
<text x="0" y="0" font-family="'Liberation Serif','Times New Roman',serif" font-size="32" text-anchor="end" transform="translate(1150.1,230.49) scale(0.85,1)" stroke="#000" stroke-width="0.45">4</text>
<text x="0" y="0" font-family="'Liberation Serif','Times New Roman',serif" font-size="32" text-anchor="end" transform="translate(1150.1,159.65) scale(0.85,1)" stroke="#000" stroke-width="0.45">5</text>
<text x="0" y="0" font-family="'Liberation Serif','Times New Roman',serif" font-size="32" text-anchor="end" transform="translate(1150.1,88.82) scale(0.85,1)" stroke="#000" stroke-width="0.45">6</text>
<line x1="1172.5" y1="505.5" x2="1172.5" y2="512" stroke="#000" stroke-width="2" stroke-linecap="butt"/>
<line x1="1267.09" y1="505.5" x2="1267.09" y2="512" stroke="#000" stroke-width="2" stroke-linecap="butt"/>
<line x1="1361.68" y1="505.5" x2="1361.68" y2="512" stroke="#000" stroke-width="2" stroke-linecap="butt"/>
<line x1="1456.27" y1="505.5" x2="1456.27" y2="512" stroke="#000" stroke-width="2" stroke-linecap="butt"/>
<line x1="1550.86" y1="505.5" x2="1550.86" y2="512" stroke="#000" stroke-width="2" stroke-linecap="butt"/>
<line x1="1645.45" y1="505.5" x2="1645.45" y2="512" stroke="#000" stroke-width="2" stroke-linecap="butt"/>
<line x1="1740.04" y1="505.5" x2="1740.04" y2="512" stroke="#000" stroke-width="2" stroke-linecap="butt"/>
<line x1="1834.63" y1="505.5" x2="1834.63" y2="512" stroke="#000" stroke-width="2" stroke-linecap="butt"/>
<line x1="1929.22" y1="505.5" x2="1929.22" y2="512" stroke="#000" stroke-width="2" stroke-linecap="butt"/>
<line x1="2023.81" y1="505.5" x2="2023.81" y2="512" stroke="#000" stroke-width="2" stroke-linecap="butt"/>
<line x1="1217.2" y1="221.6" x2="1518" y2="221.6" stroke="#000" stroke-width="3.4" stroke-linecap="butt"/>
<line x1="1578.9" y1="374.5" x2="1804.4" y2="374.5" stroke="#000" stroke-width="3.4" stroke-linecap="butt"/>
<line x1="1861.3" y1="82" x2="1991.8" y2="82" stroke="#000" stroke-width="3.4" stroke-linecap="butt"/>
<text x="0" y="0" font-family="'Liberation Serif','Times New Roman',serif" font-size="43.56" text-anchor="middle" transform="translate(1679.73,374.54) scale(1,1.53)" stroke="#000" stroke-width="0.35">*</text>
<text x="0" y="0" font-family="'Liberation Serif','Times New Roman',serif" font-size="43.56" text-anchor="middle" transform="translate(1704.87,374.54) scale(1,1.53)" stroke="#000" stroke-width="0.35">*</text>
<text x="0" y="0" font-family="'Liberation Serif','Times New Roman',serif" font-size="42.64" text-anchor="middle" transform="translate(1920.55,87) scale(1,1.54)" stroke="#000" stroke-width="0.35">*</text>
<text x="0" y="0" font-family="'Liberation Serif','Times New Roman',serif" font-size="42.64" text-anchor="middle" transform="translate(1945.15,87) scale(1,1.54)" stroke="#000" stroke-width="0.35">*</text>
<text x="1225.16" y="37.5" font-family="'Liberation Serif','Times New Roman',serif" font-size="47" textLength="728.97" lengthAdjust="spacingAndGlyphs"><tspan font-style="italic">GH3.6</tspan>(CotAD_07126) in 10 DPA fiber</text>
<text x="0" y="0" font-family="'Liberation Serif','Times New Roman',serif" font-size="38.5" text-anchor="middle" textLength="387.01" lengthAdjust="spacingAndGlyphs" transform="translate(1118.9,284.68) rotate(-90)">Relative expression level</text>
<text x="0" y="0" font-family="'Liberation Sans',Arial,sans-serif" font-size="23.3" text-anchor="end" transform="translate(1229.8,529.19) rotate(-45)">Vector_249</text>
<text x="0" y="0" font-family="'Liberation Sans',Arial,sans-serif" font-size="23.3" text-anchor="end" transform="translate(1322.69,529.55) rotate(-45)">Vector_253</text>
<text x="0" y="0" font-family="'Liberation Sans',Arial,sans-serif" font-size="23.3" text-anchor="end" transform="translate(1416.57,529.55) rotate(-45)">Vector_246</text>
<text x="0" y="0" font-family="'Liberation Sans',Arial,sans-serif" font-size="23.3" text-anchor="end" transform="translate(1507.39,529.69) rotate(-45)">Vector_251</text>
<text x="0" y="0" font-family="'Liberation Sans',Arial,sans-serif" font-size="23.3" text-anchor="end" transform="translate(1601.5,527.48) rotate(-45)">OX-miR160a_A05_191</text>
<text x="0" y="0" font-family="'Liberation Sans',Arial,sans-serif" font-size="23.3" text-anchor="end" transform="translate(1695.4,528.24) rotate(-45)">OX-miR160a_A05_192</text>
<text x="0" y="0" font-family="'Liberation Sans',Arial,sans-serif" font-size="23.3" text-anchor="end" transform="translate(1788.53,528.68) rotate(-45)">OX-miR160a_A05_194</text>
<text x="0" y="0" font-family="'Liberation Sans',Arial,sans-serif" font-size="23.3" text-anchor="end" transform="translate(1884.4,527.91) rotate(-45)">STTM-miR160a_90</text>
<text x="0" y="0" font-family="'Liberation Sans',Arial,sans-serif" font-size="23.3" text-anchor="end" transform="translate(1976.69,528.62) rotate(-45)">STTM-miR160a_94</text>
<text x="1090.3" y="22.6" font-family="'Liberation Sans',Arial,sans-serif" font-size="43" font-weight="bold">c</text>
<rect x="1208.05" y="1009.3" width="30" height="183.3" fill="#ff0000"/>
<rect x="1301.95" y="987.1" width="30" height="205.5" fill="#ff0000"/>
<rect x="1397.05" y="994.5" width="30" height="198.1" fill="#ff0000"/>
<rect x="1490.7" y="1001.8" width="30" height="190.8" fill="#ff0000"/>
<rect x="1584.3" y="1074.9" width="30" height="117.7" fill="#5b9bd5"/>
<rect x="1677.75" y="1049.6" width="30" height="143" fill="#5b9bd5"/>
<rect x="1771.55" y="1071.2" width="30" height="121.4" fill="#5b9bd5"/>
<rect x="1866.7" y="852.6" width="30" height="340" fill="#00b050"/>
<rect x="1960.4" y="969.3" width="30" height="223.3" fill="#00b050"/>
<line x1="1223.2" y1="1003.2" x2="1223.2" y2="1017.4" stroke="#595959" stroke-width="2" stroke-linecap="butt"/>
<line x1="1215.4" y1="1003.2" x2="1231" y2="1003.2" stroke="#595959" stroke-width="3" stroke-linecap="butt"/>
<line x1="1215.4" y1="1017.4" x2="1231" y2="1017.4" stroke="#595959" stroke-width="3" stroke-linecap="butt"/>
<line x1="1316.4" y1="962.9" x2="1316.4" y2="1011" stroke="#595959" stroke-width="2" stroke-linecap="butt"/>
<line x1="1308.6" y1="962.9" x2="1324.2" y2="962.9" stroke="#595959" stroke-width="3" stroke-linecap="butt"/>
<line x1="1308.6" y1="1011" x2="1324.2" y2="1011" stroke="#595959" stroke-width="3" stroke-linecap="butt"/>
<line x1="1410.7" y1="952.1" x2="1410.7" y2="1039.8" stroke="#595959" stroke-width="2" stroke-linecap="butt"/>
<line x1="1402.9" y1="952.1" x2="1418.5" y2="952.1" stroke="#595959" stroke-width="3" stroke-linecap="butt"/>
<line x1="1402.9" y1="1039.8" x2="1418.5" y2="1039.8" stroke="#595959" stroke-width="3" stroke-linecap="butt"/>
<line x1="1504" y1="973.9" x2="1504" y2="1028.8" stroke="#595959" stroke-width="2" stroke-linecap="butt"/>
<line x1="1496.2" y1="973.9" x2="1511.8" y2="973.9" stroke="#595959" stroke-width="3" stroke-linecap="butt"/>
<line x1="1496.2" y1="1028.8" x2="1511.8" y2="1028.8" stroke="#595959" stroke-width="3" stroke-linecap="butt"/>
<line x1="1597.8" y1="1054.5" x2="1597.8" y2="1095.3" stroke="#595959" stroke-width="2" stroke-linecap="butt"/>
<line x1="1590" y1="1054.5" x2="1605.6" y2="1054.5" stroke="#595959" stroke-width="3" stroke-linecap="butt"/>
<line x1="1590" y1="1095.3" x2="1605.6" y2="1095.3" stroke="#595959" stroke-width="3" stroke-linecap="butt"/>
<line x1="1694.4" y1="1018.4" x2="1694.4" y2="1080.5" stroke="#595959" stroke-width="2" stroke-linecap="butt"/>
<line x1="1686.6" y1="1018.4" x2="1702.2" y2="1018.4" stroke="#595959" stroke-width="3" stroke-linecap="butt"/>
<line x1="1686.6" y1="1080.5" x2="1702.2" y2="1080.5" stroke="#595959" stroke-width="3" stroke-linecap="butt"/>
<line x1="1788" y1="1057.7" x2="1788" y2="1080.5" stroke="#595959" stroke-width="2" stroke-linecap="butt"/>
<line x1="1780.2" y1="1057.7" x2="1795.8" y2="1057.7" stroke="#595959" stroke-width="3" stroke-linecap="butt"/>
<line x1="1780.2" y1="1080.5" x2="1795.8" y2="1080.5" stroke="#595959" stroke-width="3" stroke-linecap="butt"/>
<line x1="1881.8" y1="831.7" x2="1881.8" y2="872.3" stroke="#595959" stroke-width="2" stroke-linecap="butt"/>
<line x1="1874" y1="831.7" x2="1889.6" y2="831.7" stroke="#595959" stroke-width="3" stroke-linecap="butt"/>
<line x1="1874" y1="872.3" x2="1889.6" y2="872.3" stroke="#595959" stroke-width="3" stroke-linecap="butt"/>
<line x1="1975.4" y1="955.8" x2="1975.4" y2="981.6" stroke="#595959" stroke-width="2" stroke-linecap="butt"/>
<line x1="1967.6" y1="955.8" x2="1983.2" y2="955.8" stroke="#595959" stroke-width="3" stroke-linecap="butt"/>
<line x1="1967.6" y1="981.6" x2="1983.2" y2="981.6" stroke="#595959" stroke-width="3" stroke-linecap="butt"/>
<line x1="1174.9" y1="741.8" x2="1174.9" y2="1199.1" stroke="#000" stroke-width="2.6" stroke-linecap="butt"/>
<line x1="1167" y1="1192.6" x2="2023.6" y2="1192.6" stroke="#000" stroke-width="2.6" stroke-linecap="butt"/>
<line x1="1166.9" y1="1192.6" x2="1174.9" y2="1192.6" stroke="#000" stroke-width="2.6" stroke-linecap="butt"/>
<line x1="1168.9" y1="1174.61" x2="1174.9" y2="1174.61" stroke="#000" stroke-width="2.6" stroke-linecap="butt"/>
<line x1="1168.9" y1="1156.62" x2="1174.9" y2="1156.62" stroke="#000" stroke-width="2.6" stroke-linecap="butt"/>
<line x1="1168.9" y1="1138.62" x2="1174.9" y2="1138.62" stroke="#000" stroke-width="2.6" stroke-linecap="butt"/>
<line x1="1168.9" y1="1120.63" x2="1174.9" y2="1120.63" stroke="#000" stroke-width="2.6" stroke-linecap="butt"/>
<line x1="1166.9" y1="1102.64" x2="1174.9" y2="1102.64" stroke="#000" stroke-width="2.6" stroke-linecap="butt"/>
<line x1="1168.9" y1="1084.65" x2="1174.9" y2="1084.65" stroke="#000" stroke-width="2.6" stroke-linecap="butt"/>
<line x1="1168.9" y1="1066.66" x2="1174.9" y2="1066.66" stroke="#000" stroke-width="2.6" stroke-linecap="butt"/>
<line x1="1168.9" y1="1048.66" x2="1174.9" y2="1048.66" stroke="#000" stroke-width="2.6" stroke-linecap="butt"/>
<line x1="1168.9" y1="1030.67" x2="1174.9" y2="1030.67" stroke="#000" stroke-width="2.6" stroke-linecap="butt"/>
<line x1="1166.9" y1="1012.68" x2="1174.9" y2="1012.68" stroke="#000" stroke-width="2.6" stroke-linecap="butt"/>
<line x1="1168.9" y1="994.69" x2="1174.9" y2="994.69" stroke="#000" stroke-width="2.6" stroke-linecap="butt"/>
<line x1="1168.9" y1="976.7" x2="1174.9" y2="976.7" stroke="#000" stroke-width="2.6" stroke-linecap="butt"/>
<line x1="1168.9" y1="958.7" x2="1174.9" y2="958.7" stroke="#000" stroke-width="2.6" stroke-linecap="butt"/>
<line x1="1168.9" y1="940.71" x2="1174.9" y2="940.71" stroke="#000" stroke-width="2.6" stroke-linecap="butt"/>
<line x1="1166.9" y1="922.72" x2="1174.9" y2="922.72" stroke="#000" stroke-width="2.6" stroke-linecap="butt"/>
<line x1="1168.9" y1="904.73" x2="1174.9" y2="904.73" stroke="#000" stroke-width="2.6" stroke-linecap="butt"/>
<line x1="1168.9" y1="886.74" x2="1174.9" y2="886.74" stroke="#000" stroke-width="2.6" stroke-linecap="butt"/>
<line x1="1168.9" y1="868.74" x2="1174.9" y2="868.74" stroke="#000" stroke-width="2.6" stroke-linecap="butt"/>
<line x1="1168.9" y1="850.75" x2="1174.9" y2="850.75" stroke="#000" stroke-width="2.6" stroke-linecap="butt"/>
<line x1="1166.9" y1="832.76" x2="1174.9" y2="832.76" stroke="#000" stroke-width="2.6" stroke-linecap="butt"/>
<line x1="1168.9" y1="814.77" x2="1174.9" y2="814.77" stroke="#000" stroke-width="2.6" stroke-linecap="butt"/>
<line x1="1168.9" y1="796.78" x2="1174.9" y2="796.78" stroke="#000" stroke-width="2.6" stroke-linecap="butt"/>
<line x1="1168.9" y1="778.78" x2="1174.9" y2="778.78" stroke="#000" stroke-width="2.6" stroke-linecap="butt"/>
<line x1="1168.9" y1="760.79" x2="1174.9" y2="760.79" stroke="#000" stroke-width="2.6" stroke-linecap="butt"/>
<line x1="1166.9" y1="742.8" x2="1174.9" y2="742.8" stroke="#000" stroke-width="2.6" stroke-linecap="butt"/>
<text x="0" y="0" font-family="'Liberation Serif','Times New Roman',serif" font-size="35" text-anchor="end" transform="translate(1152.5,1204.15) scale(0.72,1)" stroke="#000" stroke-width="0.45">0</text>
<text x="0" y="0" font-family="'Liberation Serif','Times New Roman',serif" font-size="35" text-anchor="end" transform="translate(1152.5,1114.19) scale(0.72,1)" stroke="#000" stroke-width="0.45">0.5</text>
<text x="0" y="0" font-family="'Liberation Serif','Times New Roman',serif" font-size="35" text-anchor="end" transform="translate(1152.5,1024.23) scale(0.72,1)" stroke="#000" stroke-width="0.45">1</text>
<text x="0" y="0" font-family="'Liberation Serif','Times New Roman',serif" font-size="35" text-anchor="end" transform="translate(1152.5,934.27) scale(0.72,1)" stroke="#000" stroke-width="0.45">1.5</text>
<text x="0" y="0" font-family="'Liberation Serif','Times New Roman',serif" font-size="35" text-anchor="end" transform="translate(1152.5,844.31) scale(0.72,1)" stroke="#000" stroke-width="0.45">2</text>
<text x="0" y="0" font-family="'Liberation Serif','Times New Roman',serif" font-size="35" text-anchor="end" transform="translate(1152.5,754.35) scale(0.72,1)" stroke="#000" stroke-width="0.45">2.5</text>
<line x1="1174.9" y1="1192.6" x2="1174.9" y2="1200.6" stroke="#000" stroke-width="2" stroke-linecap="butt"/>
<line x1="1221.99" y1="1192.6" x2="1221.99" y2="1200.6" stroke="#000" stroke-width="2" stroke-linecap="butt"/>
<line x1="1269.08" y1="1192.6" x2="1269.08" y2="1200.6" stroke="#000" stroke-width="2" stroke-linecap="butt"/>
<line x1="1316.17" y1="1192.6" x2="1316.17" y2="1200.6" stroke="#000" stroke-width="2" stroke-linecap="butt"/>
<line x1="1363.26" y1="1192.6" x2="1363.26" y2="1200.6" stroke="#000" stroke-width="2" stroke-linecap="butt"/>
<line x1="1410.35" y1="1192.6" x2="1410.35" y2="1200.6" stroke="#000" stroke-width="2" stroke-linecap="butt"/>
<line x1="1457.44" y1="1192.6" x2="1457.44" y2="1200.6" stroke="#000" stroke-width="2" stroke-linecap="butt"/>
<line x1="1504.53" y1="1192.6" x2="1504.53" y2="1200.6" stroke="#000" stroke-width="2" stroke-linecap="butt"/>
<line x1="1551.62" y1="1192.6" x2="1551.62" y2="1200.6" stroke="#000" stroke-width="2" stroke-linecap="butt"/>
<line x1="1598.71" y1="1192.6" x2="1598.71" y2="1200.6" stroke="#000" stroke-width="2" stroke-linecap="butt"/>
<line x1="1645.8" y1="1192.6" x2="1645.8" y2="1200.6" stroke="#000" stroke-width="2" stroke-linecap="butt"/>
<line x1="1692.89" y1="1192.6" x2="1692.89" y2="1200.6" stroke="#000" stroke-width="2" stroke-linecap="butt"/>
<line x1="1739.98" y1="1192.6" x2="1739.98" y2="1200.6" stroke="#000" stroke-width="2" stroke-linecap="butt"/>
<line x1="1787.07" y1="1192.6" x2="1787.07" y2="1200.6" stroke="#000" stroke-width="2" stroke-linecap="butt"/>
<line x1="1834.16" y1="1192.6" x2="1834.16" y2="1200.6" stroke="#000" stroke-width="2" stroke-linecap="butt"/>
<line x1="1881.25" y1="1192.6" x2="1881.25" y2="1200.6" stroke="#000" stroke-width="2" stroke-linecap="butt"/>
<line x1="1928.34" y1="1192.6" x2="1928.34" y2="1200.6" stroke="#000" stroke-width="2" stroke-linecap="butt"/>
<line x1="1975.43" y1="1192.6" x2="1975.43" y2="1200.6" stroke="#000" stroke-width="2" stroke-linecap="butt"/>
<line x1="2022.52" y1="1192.6" x2="2022.52" y2="1200.6" stroke="#000" stroke-width="2" stroke-linecap="butt"/>
<line x1="1208" y1="938.8" x2="1512.1" y2="938.8" stroke="#000" stroke-width="3.4" stroke-linecap="butt"/>
<line x1="1578.4" y1="988.4" x2="1806.3" y2="988.4" stroke="#000" stroke-width="3.4" stroke-linecap="butt"/>
<line x1="1864.5" y1="822.2" x2="1996" y2="822.2" stroke="#000" stroke-width="3.4" stroke-linecap="butt"/>
<text x="0" y="0" font-family="'Liberation Serif','Times New Roman',serif" font-size="44.89" text-anchor="middle" transform="translate(1693,997.38) scale(1,1.5)" stroke="#000" stroke-width="0.35">*</text>
<text x="0" y="0" font-family="'Liberation Serif','Times New Roman',serif" font-size="44.89" text-anchor="middle" transform="translate(1938,829.79) scale(1,1.53)" stroke="#000" stroke-width="0.35">*</text>
<text x="1228.04" y="768.3" font-family="'Liberation Serif','Times New Roman',serif" font-size="47" textLength="732.9" lengthAdjust="spacingAndGlyphs"><tspan font-style="italic">GH3.3</tspan>(CotAD_24117) in 10 DPA fiber</text>
<text x="0" y="0" font-family="'Liberation Serif','Times New Roman',serif" font-size="39.34" text-anchor="middle" textLength="395.45" lengthAdjust="spacingAndGlyphs" transform="translate(1108.3,955.16) rotate(-90)">Relative expression level</text>
<text x="0" y="0" font-family="'Liberation Sans',Arial,sans-serif" font-size="23.3" text-anchor="end" transform="translate(1240.7,1222.39) rotate(-45)">Vector_249</text>
<text x="0" y="0" font-family="'Liberation Sans',Arial,sans-serif" font-size="23.3" text-anchor="end" transform="translate(1333.09,1222.75) rotate(-45)">Vector_253</text>
<text x="0" y="0" font-family="'Liberation Sans',Arial,sans-serif" font-size="23.3" text-anchor="end" transform="translate(1427.47,1222.75) rotate(-45)">Vector_246</text>
<text x="0" y="0" font-family="'Liberation Sans',Arial,sans-serif" font-size="23.3" text-anchor="end" transform="translate(1518.39,1221.69) rotate(-45)">Vector_251</text>
<text x="0" y="0" font-family="'Liberation Sans',Arial,sans-serif" font-size="23.3" text-anchor="end" transform="translate(1611.2,1220.98) rotate(-45)">OX-miR160a_A05_191</text>
<text x="0" y="0" font-family="'Liberation Sans',Arial,sans-serif" font-size="23.3" text-anchor="end" transform="translate(1707,1221.34) rotate(-45)">OX-miR160a_A05_192</text>
<text x="0" y="0" font-family="'Liberation Sans',Arial,sans-serif" font-size="23.3" text-anchor="end" transform="translate(1800.33,1222.18) rotate(-45)">OX-miR160a_A05_194</text>
<text x="0" y="0" font-family="'Liberation Sans',Arial,sans-serif" font-size="23.3" text-anchor="end" transform="translate(1895.7,1221.01) rotate(-45)">STTM-miR160a_90</text>
<text x="0" y="0" font-family="'Liberation Sans',Arial,sans-serif" font-size="23.3" text-anchor="end" transform="translate(1987.79,1222.12) rotate(-45)">STTM-miR160a_94</text>
<text x="1080.1" y="676.7" font-family="'Liberation Sans',Arial,sans-serif" font-size="43" font-weight="bold">d</text>
<rect x="1206.5" y="1654.5" width="29" height="199" fill="#ff0000"/>
<rect x="1301.4" y="1554.5" width="29" height="299" fill="#ff0000"/>
<rect x="1396.5" y="1541.4" width="29" height="312.1" fill="#ff0000"/>
<rect x="1490.95" y="1604.4" width="29" height="249.1" fill="#ff0000"/>
<rect x="1586.4" y="1588.2" width="29" height="265.3" fill="#5b9bd5"/>
<rect x="1681.05" y="1555" width="29" height="298.5" fill="#5b9bd5"/>
<rect x="1777.35" y="1571.8" width="29" height="281.7" fill="#5b9bd5"/>
<rect x="1872.25" y="1541.6" width="29" height="311.9" fill="#00b050"/>
<rect x="1967.05" y="1508.9" width="29" height="344.6" fill="#00b050"/>
<line x1="1221.5" y1="1625.4" x2="1221.5" y2="1681.5" stroke="#595959" stroke-width="2" stroke-linecap="butt"/>
<line x1="1213.7" y1="1625.4" x2="1229.3" y2="1625.4" stroke="#595959" stroke-width="3" stroke-linecap="butt"/>
<line x1="1213.7" y1="1681.5" x2="1229.3" y2="1681.5" stroke="#595959" stroke-width="3" stroke-linecap="butt"/>
<line x1="1314.7" y1="1542.6" x2="1314.7" y2="1569.3" stroke="#595959" stroke-width="2" stroke-linecap="butt"/>
<line x1="1306.9" y1="1542.6" x2="1322.5" y2="1542.6" stroke="#595959" stroke-width="3" stroke-linecap="butt"/>
<line x1="1306.9" y1="1569.3" x2="1322.5" y2="1569.3" stroke="#595959" stroke-width="3" stroke-linecap="butt"/>
<line x1="1411.2" y1="1526.5" x2="1411.2" y2="1555.6" stroke="#595959" stroke-width="2" stroke-linecap="butt"/>
<line x1="1403.4" y1="1526.5" x2="1419" y2="1526.5" stroke="#595959" stroke-width="3" stroke-linecap="butt"/>
<line x1="1403.4" y1="1555.6" x2="1419" y2="1555.6" stroke="#595959" stroke-width="3" stroke-linecap="butt"/>
<line x1="1507.1" y1="1582.6" x2="1507.1" y2="1625.4" stroke="#595959" stroke-width="2" stroke-linecap="butt"/>
<line x1="1499.3" y1="1582.6" x2="1514.9" y2="1582.6" stroke="#595959" stroke-width="3" stroke-linecap="butt"/>
<line x1="1499.3" y1="1625.4" x2="1514.9" y2="1625.4" stroke="#595959" stroke-width="3" stroke-linecap="butt"/>
<line x1="1600.9" y1="1575.9" x2="1600.9" y2="1603" stroke="#595959" stroke-width="2" stroke-linecap="butt"/>
<line x1="1593.1" y1="1575.9" x2="1608.7" y2="1575.9" stroke="#595959" stroke-width="3" stroke-linecap="butt"/>
<line x1="1593.1" y1="1603" x2="1608.7" y2="1603" stroke="#595959" stroke-width="3" stroke-linecap="butt"/>
<line x1="1696.9" y1="1526.3" x2="1696.9" y2="1582.6" stroke="#595959" stroke-width="2" stroke-linecap="butt"/>
<line x1="1689.1" y1="1526.3" x2="1704.7" y2="1526.3" stroke="#595959" stroke-width="3" stroke-linecap="butt"/>
<line x1="1689.1" y1="1582.6" x2="1704.7" y2="1582.6" stroke="#595959" stroke-width="3" stroke-linecap="butt"/>
<line x1="1790.5" y1="1549.4" x2="1790.5" y2="1592.6" stroke="#595959" stroke-width="2" stroke-linecap="butt"/>
<line x1="1782.7" y1="1549.4" x2="1798.3" y2="1549.4" stroke="#595959" stroke-width="3" stroke-linecap="butt"/>
<line x1="1782.7" y1="1592.6" x2="1798.3" y2="1592.6" stroke="#595959" stroke-width="3" stroke-linecap="butt"/>
<line x1="1886.5" y1="1526.3" x2="1886.5" y2="1555.8" stroke="#595959" stroke-width="2" stroke-linecap="butt"/>
<line x1="1878.7" y1="1526.3" x2="1894.3" y2="1526.3" stroke="#595959" stroke-width="3" stroke-linecap="butt"/>
<line x1="1878.7" y1="1555.8" x2="1894.3" y2="1555.8" stroke="#595959" stroke-width="3" stroke-linecap="butt"/>
<line x1="1982.6" y1="1470.3" x2="1982.6" y2="1542.8" stroke="#595959" stroke-width="2" stroke-linecap="butt"/>
<line x1="1974.8" y1="1470.3" x2="1990.4" y2="1470.3" stroke="#595959" stroke-width="3" stroke-linecap="butt"/>
<line x1="1974.8" y1="1542.8" x2="1990.4" y2="1542.8" stroke="#595959" stroke-width="3" stroke-linecap="butt"/>
<line x1="1173.6" y1="1445.8" x2="1173.6" y2="1862" stroke="#000" stroke-width="2.6" stroke-linecap="butt"/>
<line x1="1165.5" y1="1853.5" x2="2027.8" y2="1853.5" stroke="#000" stroke-width="2.6" stroke-linecap="butt"/>
<line x1="1163.6" y1="1853.5" x2="1173.6" y2="1853.5" stroke="#000" stroke-width="2.6" stroke-linecap="butt"/>
<line x1="1166.6" y1="1845.37" x2="1173.6" y2="1845.37" stroke="#000" stroke-width="2.6" stroke-linecap="butt"/>
<line x1="1166.6" y1="1837.23" x2="1173.6" y2="1837.23" stroke="#000" stroke-width="2.6" stroke-linecap="butt"/>
<line x1="1166.6" y1="1829.1" x2="1173.6" y2="1829.1" stroke="#000" stroke-width="2.6" stroke-linecap="butt"/>
<line x1="1166.6" y1="1820.96" x2="1173.6" y2="1820.96" stroke="#000" stroke-width="2.6" stroke-linecap="butt"/>
<line x1="1163.6" y1="1812.83" x2="1173.6" y2="1812.83" stroke="#000" stroke-width="2.6" stroke-linecap="butt"/>
<line x1="1166.6" y1="1804.7" x2="1173.6" y2="1804.7" stroke="#000" stroke-width="2.6" stroke-linecap="butt"/>
<line x1="1166.6" y1="1796.56" x2="1173.6" y2="1796.56" stroke="#000" stroke-width="2.6" stroke-linecap="butt"/>
<line x1="1166.6" y1="1788.43" x2="1173.6" y2="1788.43" stroke="#000" stroke-width="2.6" stroke-linecap="butt"/>
<line x1="1166.6" y1="1780.29" x2="1173.6" y2="1780.29" stroke="#000" stroke-width="2.6" stroke-linecap="butt"/>
<line x1="1163.6" y1="1772.16" x2="1173.6" y2="1772.16" stroke="#000" stroke-width="2.6" stroke-linecap="butt"/>
<line x1="1166.6" y1="1764.03" x2="1173.6" y2="1764.03" stroke="#000" stroke-width="2.6" stroke-linecap="butt"/>
<line x1="1166.6" y1="1755.89" x2="1173.6" y2="1755.89" stroke="#000" stroke-width="2.6" stroke-linecap="butt"/>
<line x1="1166.6" y1="1747.76" x2="1173.6" y2="1747.76" stroke="#000" stroke-width="2.6" stroke-linecap="butt"/>
<line x1="1166.6" y1="1739.62" x2="1173.6" y2="1739.62" stroke="#000" stroke-width="2.6" stroke-linecap="butt"/>
<line x1="1163.6" y1="1731.49" x2="1173.6" y2="1731.49" stroke="#000" stroke-width="2.6" stroke-linecap="butt"/>
<line x1="1166.6" y1="1723.36" x2="1173.6" y2="1723.36" stroke="#000" stroke-width="2.6" stroke-linecap="butt"/>
<line x1="1166.6" y1="1715.22" x2="1173.6" y2="1715.22" stroke="#000" stroke-width="2.6" stroke-linecap="butt"/>
<line x1="1166.6" y1="1707.09" x2="1173.6" y2="1707.09" stroke="#000" stroke-width="2.6" stroke-linecap="butt"/>
<line x1="1166.6" y1="1698.95" x2="1173.6" y2="1698.95" stroke="#000" stroke-width="2.6" stroke-linecap="butt"/>
<line x1="1163.6" y1="1690.82" x2="1173.6" y2="1690.82" stroke="#000" stroke-width="2.6" stroke-linecap="butt"/>
<line x1="1166.6" y1="1682.69" x2="1173.6" y2="1682.69" stroke="#000" stroke-width="2.6" stroke-linecap="butt"/>
<line x1="1166.6" y1="1674.55" x2="1173.6" y2="1674.55" stroke="#000" stroke-width="2.6" stroke-linecap="butt"/>
<line x1="1166.6" y1="1666.42" x2="1173.6" y2="1666.42" stroke="#000" stroke-width="2.6" stroke-linecap="butt"/>
<line x1="1166.6" y1="1658.28" x2="1173.6" y2="1658.28" stroke="#000" stroke-width="2.6" stroke-linecap="butt"/>
<line x1="1163.6" y1="1650.15" x2="1173.6" y2="1650.15" stroke="#000" stroke-width="2.6" stroke-linecap="butt"/>
<line x1="1166.6" y1="1642.02" x2="1173.6" y2="1642.02" stroke="#000" stroke-width="2.6" stroke-linecap="butt"/>
<line x1="1166.6" y1="1633.88" x2="1173.6" y2="1633.88" stroke="#000" stroke-width="2.6" stroke-linecap="butt"/>
<line x1="1166.6" y1="1625.75" x2="1173.6" y2="1625.75" stroke="#000" stroke-width="2.6" stroke-linecap="butt"/>
<line x1="1166.6" y1="1617.61" x2="1173.6" y2="1617.61" stroke="#000" stroke-width="2.6" stroke-linecap="butt"/>
<line x1="1163.6" y1="1609.48" x2="1173.6" y2="1609.48" stroke="#000" stroke-width="2.6" stroke-linecap="butt"/>
<line x1="1166.6" y1="1601.35" x2="1173.6" y2="1601.35" stroke="#000" stroke-width="2.6" stroke-linecap="butt"/>
<line x1="1166.6" y1="1593.21" x2="1173.6" y2="1593.21" stroke="#000" stroke-width="2.6" stroke-linecap="butt"/>
<line x1="1166.6" y1="1585.08" x2="1173.6" y2="1585.08" stroke="#000" stroke-width="2.6" stroke-linecap="butt"/>
<line x1="1166.6" y1="1576.94" x2="1173.6" y2="1576.94" stroke="#000" stroke-width="2.6" stroke-linecap="butt"/>
<line x1="1163.6" y1="1568.81" x2="1173.6" y2="1568.81" stroke="#000" stroke-width="2.6" stroke-linecap="butt"/>
<line x1="1166.6" y1="1560.68" x2="1173.6" y2="1560.68" stroke="#000" stroke-width="2.6" stroke-linecap="butt"/>
<line x1="1166.6" y1="1552.54" x2="1173.6" y2="1552.54" stroke="#000" stroke-width="2.6" stroke-linecap="butt"/>
<line x1="1166.6" y1="1544.41" x2="1173.6" y2="1544.41" stroke="#000" stroke-width="2.6" stroke-linecap="butt"/>
<line x1="1166.6" y1="1536.27" x2="1173.6" y2="1536.27" stroke="#000" stroke-width="2.6" stroke-linecap="butt"/>
<line x1="1163.6" y1="1528.14" x2="1173.6" y2="1528.14" stroke="#000" stroke-width="2.6" stroke-linecap="butt"/>
<line x1="1166.6" y1="1520.01" x2="1173.6" y2="1520.01" stroke="#000" stroke-width="2.6" stroke-linecap="butt"/>
<line x1="1166.6" y1="1511.87" x2="1173.6" y2="1511.87" stroke="#000" stroke-width="2.6" stroke-linecap="butt"/>
<line x1="1166.6" y1="1503.74" x2="1173.6" y2="1503.74" stroke="#000" stroke-width="2.6" stroke-linecap="butt"/>
<line x1="1166.6" y1="1495.6" x2="1173.6" y2="1495.6" stroke="#000" stroke-width="2.6" stroke-linecap="butt"/>
<line x1="1163.6" y1="1487.47" x2="1173.6" y2="1487.47" stroke="#000" stroke-width="2.6" stroke-linecap="butt"/>
<line x1="1166.6" y1="1479.34" x2="1173.6" y2="1479.34" stroke="#000" stroke-width="2.6" stroke-linecap="butt"/>
<line x1="1166.6" y1="1471.2" x2="1173.6" y2="1471.2" stroke="#000" stroke-width="2.6" stroke-linecap="butt"/>
<line x1="1166.6" y1="1463.07" x2="1173.6" y2="1463.07" stroke="#000" stroke-width="2.6" stroke-linecap="butt"/>
<line x1="1166.6" y1="1454.93" x2="1173.6" y2="1454.93" stroke="#000" stroke-width="2.6" stroke-linecap="butt"/>
<line x1="1163.6" y1="1446.8" x2="1173.6" y2="1446.8" stroke="#000" stroke-width="2.6" stroke-linecap="butt"/>
<text x="0" y="0" font-family="'Liberation Serif','Times New Roman',serif" font-size="29" text-anchor="end" transform="translate(1149.5,1861.33) scale(0.92,1)" stroke="#000" stroke-width="0.45">0</text>
<text x="0" y="0" font-family="'Liberation Serif','Times New Roman',serif" font-size="29" text-anchor="end" transform="translate(1149.5,1820.66) scale(0.92,1)" stroke="#000" stroke-width="0.45">0.2</text>
<text x="0" y="0" font-family="'Liberation Serif','Times New Roman',serif" font-size="29" text-anchor="end" transform="translate(1149.5,1779.99) scale(0.92,1)" stroke="#000" stroke-width="0.45">0.4</text>
<text x="0" y="0" font-family="'Liberation Serif','Times New Roman',serif" font-size="29" text-anchor="end" transform="translate(1149.5,1739.32) scale(0.92,1)" stroke="#000" stroke-width="0.45">0.6</text>
<text x="0" y="0" font-family="'Liberation Serif','Times New Roman',serif" font-size="29" text-anchor="end" transform="translate(1149.5,1698.65) scale(0.92,1)" stroke="#000" stroke-width="0.45">0.8</text>
<text x="0" y="0" font-family="'Liberation Serif','Times New Roman',serif" font-size="29" text-anchor="end" transform="translate(1149.5,1657.98) scale(0.92,1)" stroke="#000" stroke-width="0.45">1</text>
<text x="0" y="0" font-family="'Liberation Serif','Times New Roman',serif" font-size="29" text-anchor="end" transform="translate(1149.5,1617.31) scale(0.92,1)" stroke="#000" stroke-width="0.45">1.2</text>
<text x="0" y="0" font-family="'Liberation Serif','Times New Roman',serif" font-size="29" text-anchor="end" transform="translate(1149.5,1576.64) scale(0.92,1)" stroke="#000" stroke-width="0.45">1.4</text>
<text x="0" y="0" font-family="'Liberation Serif','Times New Roman',serif" font-size="29" text-anchor="end" transform="translate(1149.5,1535.97) scale(0.92,1)" stroke="#000" stroke-width="0.45">1.6</text>
<text x="0" y="0" font-family="'Liberation Serif','Times New Roman',serif" font-size="29" text-anchor="end" transform="translate(1149.5,1495.3) scale(0.92,1)" stroke="#000" stroke-width="0.45">1.8</text>
<text x="0" y="0" font-family="'Liberation Serif','Times New Roman',serif" font-size="29" text-anchor="end" transform="translate(1149.5,1454.63) scale(0.92,1)" stroke="#000" stroke-width="0.45">2</text>
<line x1="2027.8" y1="1853.5" x2="2027.8" y2="1860" stroke="#000" stroke-width="2" stroke-linecap="butt"/>
<line x1="1214.3" y1="1514.9" x2="1516.5" y2="1514.9" stroke="#000" stroke-width="3.4" stroke-linecap="butt"/>
<line x1="1583.8" y1="1513.5" x2="1810" y2="1513.5" stroke="#000" stroke-width="3.4" stroke-linecap="butt"/>
<text x="1229.04" y="1434.9" font-family="'Liberation Serif','Times New Roman',serif" font-size="47" textLength="732.68" lengthAdjust="spacingAndGlyphs"><tspan font-style="italic">GH3.6</tspan>(CotAD_49430) in 10 DPA fiber</text>
<text x="0" y="0" font-family="'Liberation Serif','Times New Roman',serif" font-size="34.86" text-anchor="middle" textLength="350.42" lengthAdjust="spacingAndGlyphs" transform="translate(1100.8,1643.65) rotate(-90)">Relative expression level</text>
<text x="0" y="0" font-family="'Liberation Sans',Arial,sans-serif" font-size="23.3" text-anchor="end" transform="translate(1227.4,1875.69) rotate(-45)">Vector_249</text>
<text x="0" y="0" font-family="'Liberation Sans',Arial,sans-serif" font-size="23.3" text-anchor="end" transform="translate(1320.89,1876.05) rotate(-45)">Vector_253</text>
<text x="0" y="0" font-family="'Liberation Sans',Arial,sans-serif" font-size="23.3" text-anchor="end" transform="translate(1414.27,1876.05) rotate(-45)">Vector_246</text>
<text x="0" y="0" font-family="'Liberation Sans',Arial,sans-serif" font-size="23.3" text-anchor="end" transform="translate(1505.39,1874.99) rotate(-45)">Vector_251</text>
<text x="0" y="0" font-family="'Liberation Sans',Arial,sans-serif" font-size="23.3" text-anchor="end" transform="translate(1599.2,1873.68) rotate(-45)">OX-miR160a_A05_191</text>
<text x="0" y="0" font-family="'Liberation Sans',Arial,sans-serif" font-size="23.3" text-anchor="end" transform="translate(1693.5,1873.94) rotate(-45)">OX-miR160a_A05_192</text>
<text x="0" y="0" font-family="'Liberation Sans',Arial,sans-serif" font-size="23.3" text-anchor="end" transform="translate(1787.53,1874.18) rotate(-45)">OX-miR160a_A05_194</text>
<text x="0" y="0" font-family="'Liberation Sans',Arial,sans-serif" font-size="23.3" text-anchor="end" transform="translate(1882.6,1873.41) rotate(-45)">STTM-miR160a_90</text>
<text x="0" y="0" font-family="'Liberation Sans',Arial,sans-serif" font-size="23.3" text-anchor="end" transform="translate(1974.79,1874.12) rotate(-45)">STTM-miR160a_94</text>
<text x="1080.2" y="1388.8" font-family="'Liberation Sans',Arial,sans-serif" font-size="43" font-weight="bold">e</text>
<line x1="1221.08" y1="1853.5" x2="1221.08" y2="1857" stroke="#000" stroke-width="2" stroke-linecap="butt"/>
<line x1="1268.56" y1="1853.5" x2="1268.56" y2="1857" stroke="#000" stroke-width="2" stroke-linecap="butt"/>
<line x1="1316.04" y1="1853.5" x2="1316.04" y2="1857" stroke="#000" stroke-width="2" stroke-linecap="butt"/>
<line x1="1363.52" y1="1853.5" x2="1363.52" y2="1857" stroke="#000" stroke-width="2" stroke-linecap="butt"/>
<line x1="1411" y1="1853.5" x2="1411" y2="1857" stroke="#000" stroke-width="2" stroke-linecap="butt"/>
<line x1="1458.48" y1="1853.5" x2="1458.48" y2="1857" stroke="#000" stroke-width="2" stroke-linecap="butt"/>
<line x1="1505.96" y1="1853.5" x2="1505.96" y2="1857" stroke="#000" stroke-width="2" stroke-linecap="butt"/>
<line x1="1553.44" y1="1853.5" x2="1553.44" y2="1857" stroke="#000" stroke-width="2" stroke-linecap="butt"/>
<line x1="1600.92" y1="1853.5" x2="1600.92" y2="1857" stroke="#000" stroke-width="2" stroke-linecap="butt"/>
<line x1="1648.4" y1="1853.5" x2="1648.4" y2="1857" stroke="#000" stroke-width="2" stroke-linecap="butt"/>
<line x1="1695.88" y1="1853.5" x2="1695.88" y2="1857" stroke="#000" stroke-width="2" stroke-linecap="butt"/>
<line x1="1743.36" y1="1853.5" x2="1743.36" y2="1857" stroke="#000" stroke-width="2" stroke-linecap="butt"/>
<line x1="1790.84" y1="1853.5" x2="1790.84" y2="1857" stroke="#000" stroke-width="2" stroke-linecap="butt"/>
<line x1="1838.32" y1="1853.5" x2="1838.32" y2="1857" stroke="#000" stroke-width="2" stroke-linecap="butt"/>
<line x1="1885.8" y1="1853.5" x2="1885.8" y2="1857" stroke="#000" stroke-width="2" stroke-linecap="butt"/>
<line x1="1933.28" y1="1853.5" x2="1933.28" y2="1857" stroke="#000" stroke-width="2" stroke-linecap="butt"/>
<line x1="1980.76" y1="1853.5" x2="1980.76" y2="1857" stroke="#000" stroke-width="2" stroke-linecap="butt"/>
<rect x="1993.2" y="1453" width="3" height="3" fill="#000"/>
</svg></body></html>
